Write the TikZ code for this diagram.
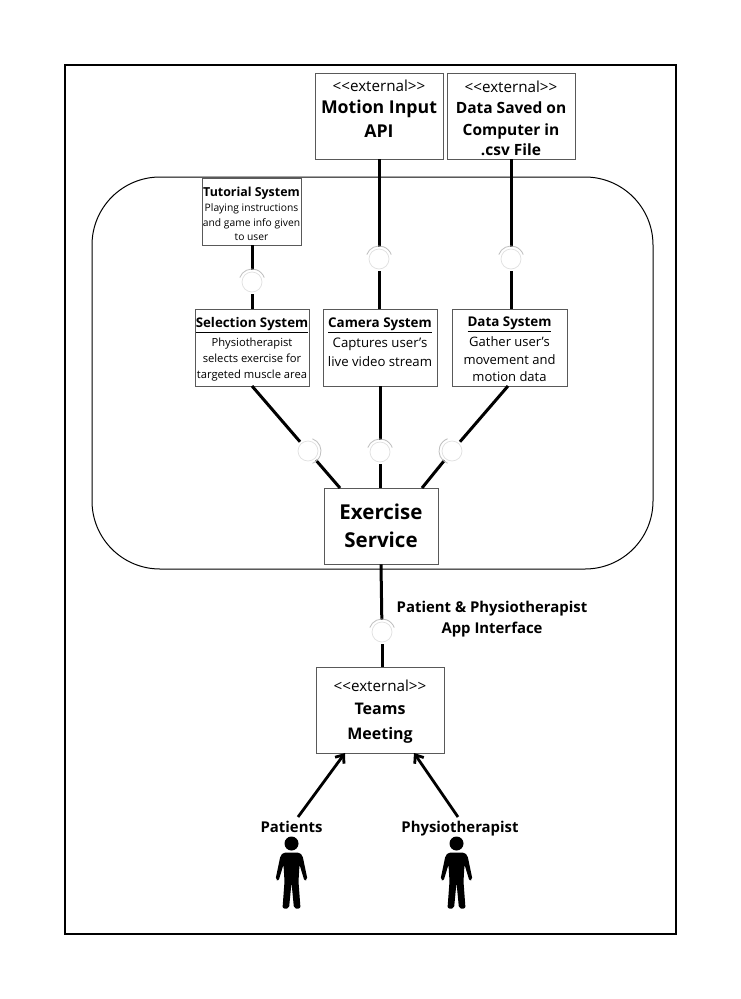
\documentclass[tikz,border=0pt]{standalone}
\usepackage{fontspec}
\setmainfont{Open Sans}
\usetikzlibrary{arrows.meta}
\newcommand{\tline}[3]{{\fontsize{#1}{#2}\selectfont\strut\raisebox{-2pt}{#3}}}
\newcommand{\tgap}[1]{\rule{0pt}{#1pt}}
\tikzset{
	box/.style={draw=black!65,line width=0.9pt,fill=white,align=center,inner sep=0pt,text=black,
		execute at begin node={\lineskiplimit=16000pt\lineskip=0pt}},
	wire/.style={line width=3pt,black},
	socket/.style={circle,fill=white,minimum size=24pt,inner sep=0pt},
	arrowline/.style={line width=2.8pt,-{Straight Barb[length=7pt,width=11pt]}},
	lbl/.style={font=\bfseries\fontsize{14.9}{21}\selectfont,align=center,inner sep=0pt},
	person/.pic={
		\fill (0,-50) circle (7);
		\fill[rounded corners=2pt] (-8,-41) -- (8,-41) -- (11,-38) -- (16,-14) -- (13,-12.5) -- (8,-29) -- (7,-12) -- (9,15) -- (2.5,15) -- (0,-11) -- (-2.5,15) -- (-9,15) -- (-7,-12) -- (-8,-29) -- (-13,-12.5) -- (-16,-14) -- (-11,-38) -- cycle;
	}
}
\begin{document}
\begin{tikzpicture}[x=1pt,y=-1pt]
	\useasboundingbox (0,0) rectangle (741,999);
	\fill[white] (0,0) rectangle (741,999);
	\draw[line width=1.6pt] (65,65) rectangle (676,934);
	\draw[line width=1pt,rounded corners=68pt,fill=white] (92,177) rectangle (653,569);
	% components
	\node[box,minimum width=128pt,minimum height=86pt] (motion) at (379,116) {\tline{15.2}{20}{<{}<external>{}>}\\\tline{17.7}{24}{\bfseries Motion Input}\\\tline{17.7}{24}{\bfseries API}\\\tgap{14}};
	\node[box,minimum width=128pt,minimum height=86pt] (saved) at (511,116) {\tline{15.2}{20}{<{}<external>{}>}\\\tline{15.5}{22}{\bfseries Data Saved on}\\\tline{15.5}{22}{\bfseries Computer in}\\{\bfseries\fontsize{15.5}{22}\selectfont\rule[-2pt]{0pt}{15.4pt}\raisebox{-2pt}{.csv File}}};
	\node[box,minimum width=99pt,minimum height=67pt] (tutorial) at (251.5,211.5) {\tgap{3}\\\tline{12.4}{16}{\bfseries Tutorial System}\\\tline{10.3}{15}{Playing instructions}\\\tline{10.3}{14}{and game info given}\\\tline{10.3}{14}{to user}};
	\node[box,minimum width=114pt,minimum height=77pt] (selection) at (252,347.5) {\tline{13.3}{17}{\bfseries\underline{Selection System}}\\\tline{11.2}{16}{Physiotherapist}\\\tline{11.2}{16}{selects exercise for}\\\tline{11.2}{16}{targeted muscle area}};
	\node[box,minimum width=114pt,minimum height=77pt] (camera) at (380,347.5) {\tline{13.4}{17}{\bfseries\underline{Camera System}}\\\tline{13.2}{19}{Captures user's}\\\tline{13.2}{18}{live video stream}\\\tgap{12}};
	\node[box,minimum width=115pt,minimum height=77pt] (data) at (509.5,347.5) {\tgap{3}\\\tline{13.4}{17}{\bfseries\underline{Data System}}\\\tline{13}{18}{Gather user's}\\\tline{13}{18}{movement and}\\\tline{13}{17}{motion data}};
	\node[box,minimum width=114pt,minimum height=76pt] (exercise) at (381,526) {\tline{20.5}{28}{\bfseries Exercise}\\\tline{20.5}{28}{\bfseries Service}};
	\node[box,minimum width=128pt,minimum height=86pt] (teams) at (380,710) {\tline{15.2}{20}{<{}<external>{}>}\\\tline{16}{24}{\bfseries Teams}\\\tline{16}{25}{\bfseries Meeting}};
	% sockets
	\node[socket] (sockTut) at (252,282) {};
	\node[socket] (sockMot) at (379,259) {};
	\node[socket] (sockSav) at (511,259) {};
	\node[socket] (sockSel) at (308,451) {};
	\node[socket] (sockCam) at (380,452) {};
	\node[socket] (sockDat) at (452,451) {};
	\node[socket] (sockTea) at (382,632) {};
	% wires
	\coordinate (exSel) at (340,488);
	\coordinate (exDat) at (422,488);
	\coordinate (selOut) at (252,386);
	\coordinate (datOut) at (508,386);
	\draw[wire] (tutorial.south-|sockTut) -- (sockTut);
	\draw[wire] (sockTut) -- (selection.north);
	\draw[wire] (motion.south) -- (sockMot);
	\draw[wire] (sockMot) -- (camera.north-|sockMot);
	\draw[wire] (saved.south) -- (sockSav);
	\draw[wire] (sockSav) -- (data.north-|sockSav);
	\draw[wire] (selOut) -- (sockSel);
	\draw[wire] (sockSel) -- (exSel);
	\draw[wire] (camera.south) -- (sockCam);
	\draw[wire] (sockCam) -- (exercise.north-|sockCam);
	\draw[wire] (datOut) -- (sockDat);
	\draw[wire] (sockDat) -- (exDat);
	\draw[wire] (exercise.south) -- (sockTea);
	\draw[wire] (sockTea) -- (teams.north-|sockTea);
	% socket rings
	\foreach \s/\a in {sockTut/270,sockMot/270,sockSav/270,sockSel/0,sockCam/270,sockDat/180,sockTea/270}{
		\draw[black!12,line width=0.7pt] (\s) circle (10);
		\draw[black!25,line width=0.8pt] (\s) ++(\a-70:13) arc[start angle=\a-70,end angle=\a+70,radius=13];
	}
	% texts
	\node[lbl] (iface) at (492,619.5) {Patient \& Physiotherapist\\App Interface};
	\node[lbl,anchor=base] (patients) at (291.5,832) {Patients};
	\node[lbl,anchor=base] (physio) at (460,832) {Physiotherapist};
	\coordinate (patFrom) at (298,817);
	\coordinate (phyFrom) at (458,817);
	\coordinate (patTo) at (345,753);
	\coordinate (phyTo) at (414,753);
	\draw[arrowline] (patFrom) -- (patTo);
	\draw[arrowline] (phyFrom) -- (phyTo);
	\pic at (291.5,893.5) {person};
	\pic at (456.5,893.5) {person};
\end{tikzpicture}
\end{document}
